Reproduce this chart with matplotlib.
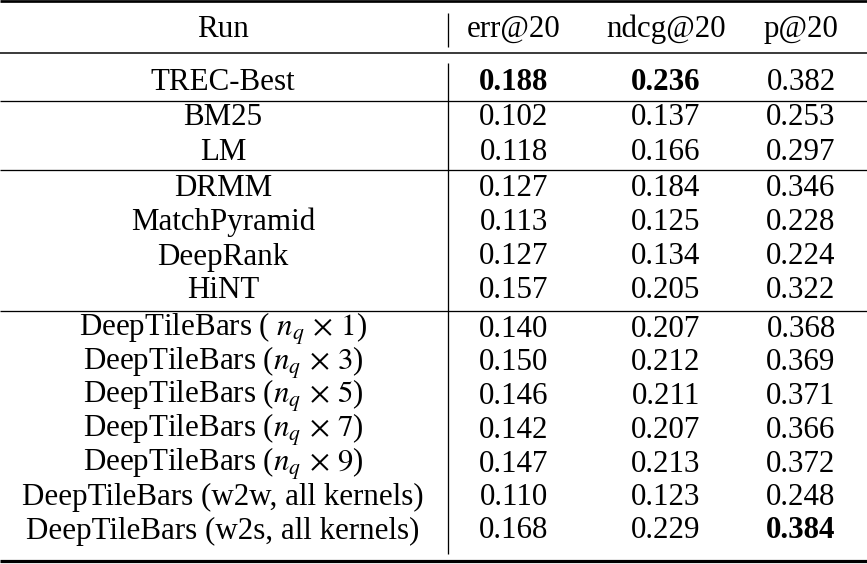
import matplotlib
matplotlib.use("Agg")
import matplotlib.pyplot as plt

# ---------------- data ----------------
header = ["Run", "err@20", "ndcg@20", "p@20"]
runs = [
    "TREC-Best",
    "BM25", "LM",
    "DRMM", "MatchPyramid", "DeepRank", "HiNT",
    "DeepTileBars ( $n_q\\,\\times\\,1$)",
    "DeepTileBars ($n_q\\,\\times\\,3$)",
    "DeepTileBars ($n_q\\,\\times\\,5$)",
    "DeepTileBars ($n_q\\,\\times\\,7$)",
    "DeepTileBars ($n_q\\,\\times\\,9$)",
    "DeepTileBars (w2w, all kernels)",
    "DeepTileBars (w2s, all kernels)",
]
err20 = [0.188, 0.102, 0.118, 0.127, 0.113, 0.127, 0.157,
         0.140, 0.150, 0.146, 0.142, 0.147, 0.110, 0.168]
ndcg20 = [0.236, 0.137, 0.166, 0.184, 0.125, 0.134, 0.205,
          0.207, 0.212, 0.211, 0.207, 0.213, 0.123, 0.229]
p20 = [0.382, 0.253, 0.297, 0.346, 0.228, 0.224, 0.322,
       0.368, 0.369, 0.371, 0.366, 0.372, 0.248, 0.384]

# ---------------- layout (pixels) ----------------
W, H = 867, 564
plt.rcParams['font.family'] = ['Liberation Serif', 'DejaVu Serif']
plt.rcParams['mathtext.fontset'] = 'stix'
FS = 22.3

col_x = [223, 514, 666, 801]
vline_x = 447.5
header_base = 37
row_base = [90, 125, 160, 196, 230, 264.5, 298.5,
            337, 370.5, 404, 438, 471.5, 505, 538.5]
sep_lines = [100.5, 170, 310.5]

fig = plt.figure(figsize=(W / 100, H / 100), dpi=100)
ax = fig.add_axes([0, 0, 1, 1])
ax.set_xlim(0, W)
ax.set_ylim(H, 0)
ax.axis('off')

px = 0.72  # points per pixel at 100 dpi

# rules
ax.hlines(1.3, 0, W, color='black', lw=2.7 * px)
ax.hlines(53.3, 0, W, color='black', lw=1.5 * px)
for y in sep_lines:
    ax.hlines(y, 0, W, color='black', lw=1.3 * px)
ax.hlines(560.5, 0, W, color='black', lw=3.2 * px)

# vertical separator
ax.vlines(vline_x, 12.7, 46.7, color='black', lw=1.3 * px)
ax.vlines(vline_x, 63, 554, color='black', lw=1.3 * px)

# header
for x, t in zip(col_x, header):
    ax.text(x, header_base, t, ha='center', va='baseline', fontsize=FS)

cols = [err20, ndcg20, p20]
best = [max(c) for c in cols]
for i, name in enumerate(runs):
    y = row_base[i]
    ax.text(col_x[0], y, name, ha='center', va='baseline', fontsize=FS)
    for j, c in enumerate(cols):
        v = c[i]
        ax.text(col_x[j + 1], y, f"{v:.3f}", ha='center', va='baseline',
                fontsize=FS, fontweight='bold' if v == best[j] else 'normal')

fig.savefig("out.png", dpi=100)
